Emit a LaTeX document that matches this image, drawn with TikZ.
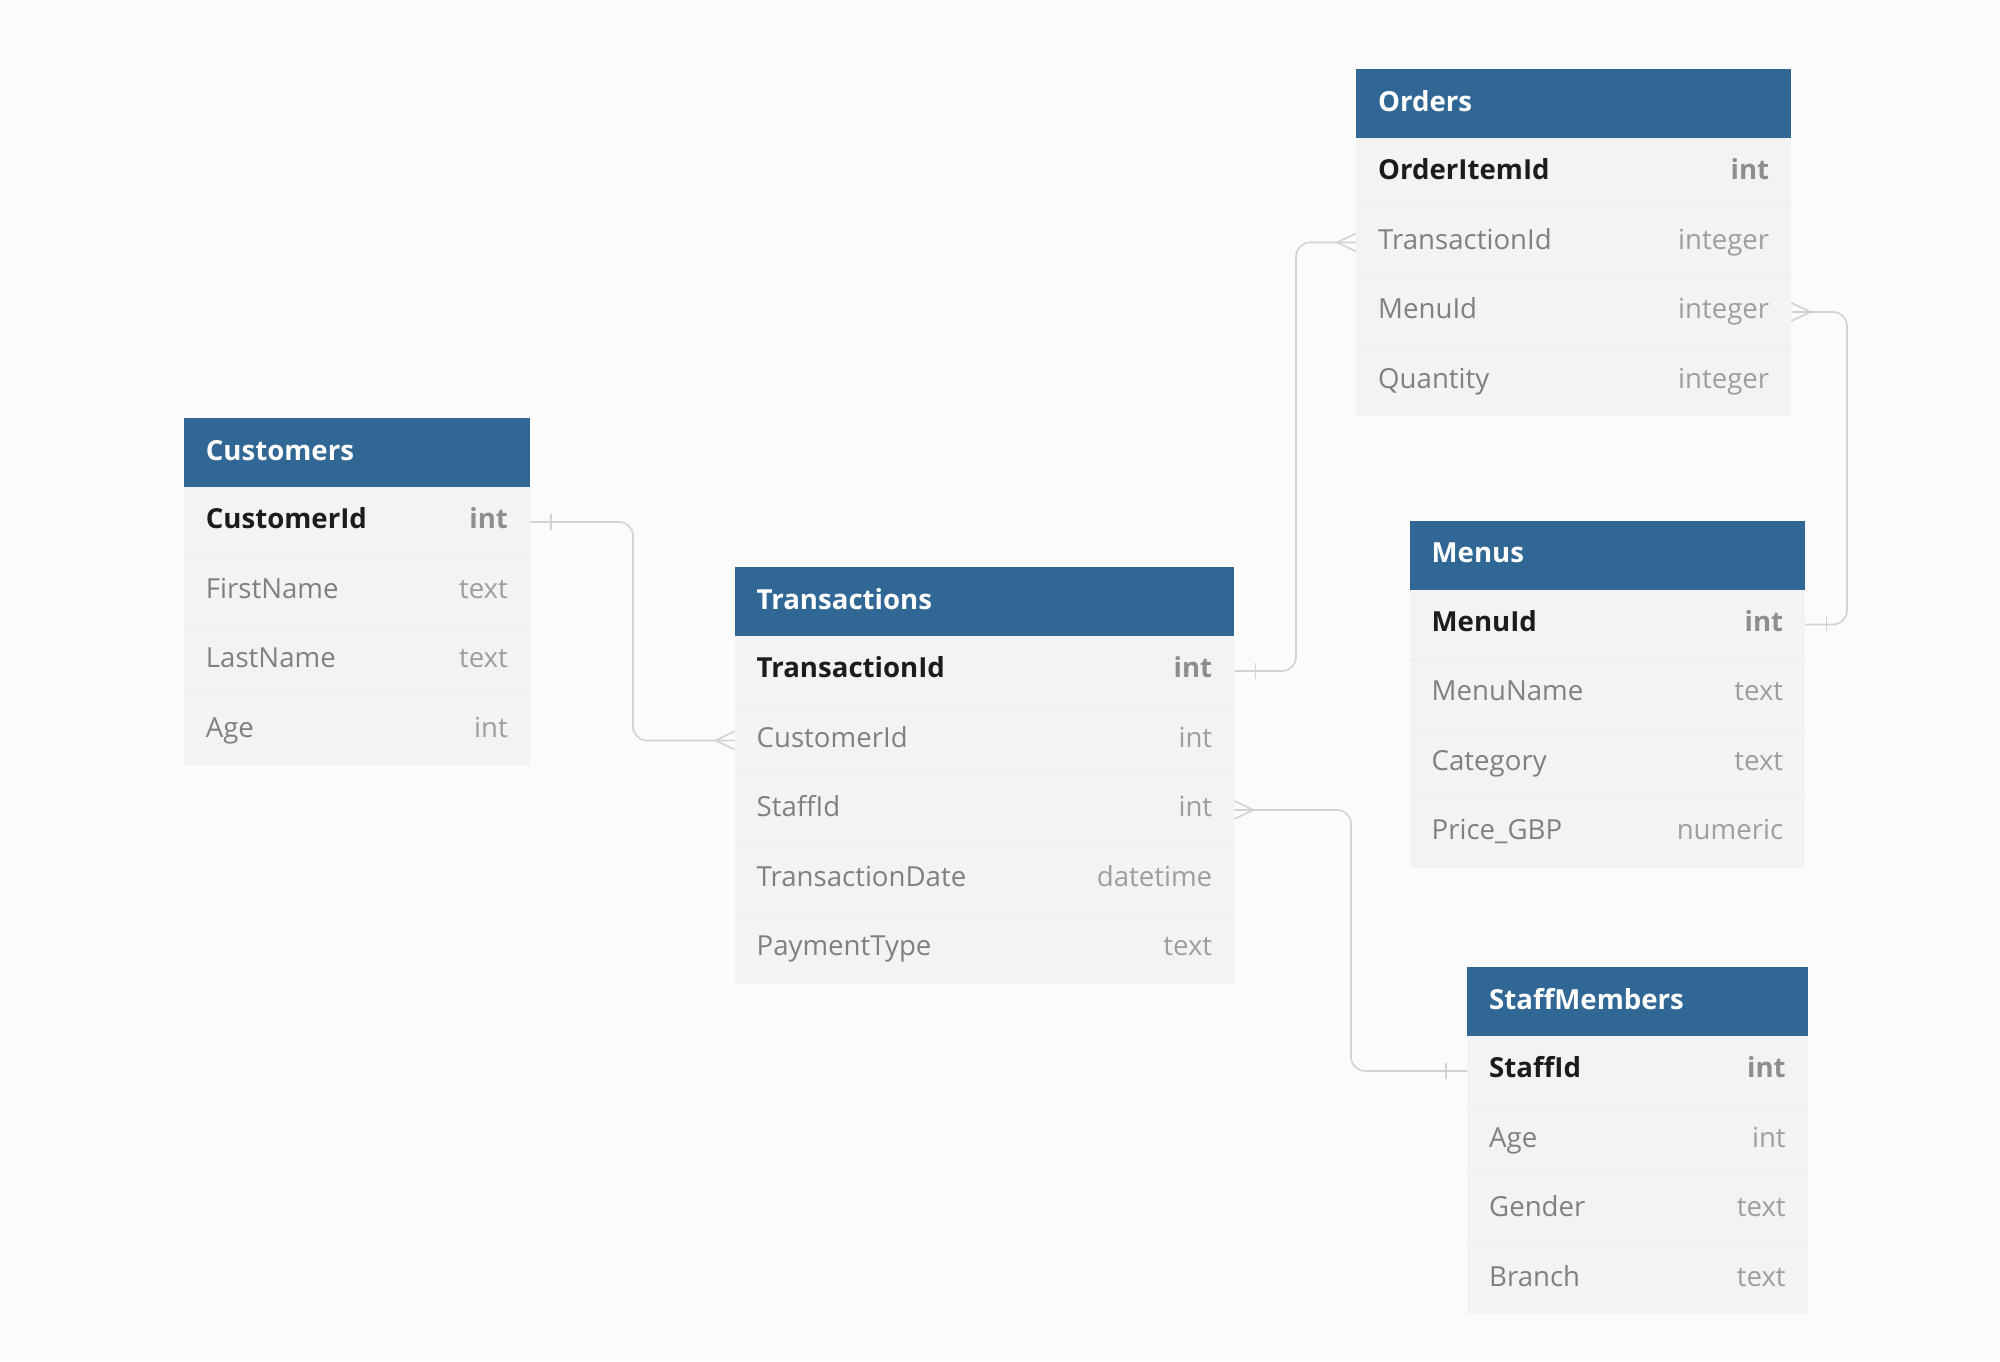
\documentclass[tikz,border=0pt]{standalone}
\usepackage{fontspec}
\setmainfont{Open Sans}
\definecolor{bgcol}{HTML}{FBFBFB}
\definecolor{hdrblue}{HTML}{316795}
\definecolor{rowcol}{HTML}{F3F3F3}
\definecolor{sepcol}{HTML}{EEEEEE}
\definecolor{linecol}{HTML}{D2D2D2}
\definecolor{pkcol}{HTML}{1C1C1C}
\definecolor{pktcol}{HTML}{8E8E8E}
\definecolor{namecol}{HTML}{808080}
\definecolor{typecol}{HTML}{9E9E9E}
\tikzset{
  hdr/.style={fill=hdrblue, draw=none, inner sep=0pt, minimum height=69pt, anchor=north west},
  rowbox/.style={fill=rowcol, draw=none, inner sep=0pt, minimum height=69.5pt, anchor=north west},
  hdrtxt/.style={text=white, inner sep=0pt, anchor=base west, font=\fontsize{27.6}{30}\selectfont\bfseries},
  pkname/.style={text=pkcol, inner sep=0pt, anchor=base west, font=\fontsize{27.6}{30}\selectfont\bfseries},
  pktype/.style={text=pktcol, inner sep=0pt, anchor=base east, font=\fontsize{27.6}{30}\selectfont\bfseries},
  fname/.style={text=namecol, inner sep=0pt, anchor=base west, font=\fontsize{27.6}{30}\selectfont},
  ftype/.style={text=typecol, inner sep=0pt, anchor=base east, font=\fontsize{27.6}{30}\selectfont},
  sep/.style={draw=sepcol, line width=1pt},
  conn/.style={draw=linecol, line width=1.6pt, rounded corners=14pt},
  ermark/.style={draw=linecol, line width=1.6pt}
}
\newcommand\ertable[6]{%
  \node[hdr, minimum width=#4pt] (#1-h) at (#2,#3) {};
  \node[hdrtxt] (#1-title) at ([xshift=22pt,yshift=-7.5pt]#1-h.west) {#5};
  \foreach \fn/\ft [count=\i] in {#6} {%
    \pgfmathsetmacro\ry{#3+69+(\i-1)*69.5}%
    \node[rowbox, minimum width=#4pt] (#1-\i) at (#2,\ry) {};
    \ifnum\i>1 \draw[sep] (#1-\i.north west) -- (#1-\i.north east); \fi
    \ifnum\i=1
      \node[pkname] (#1-\i-n) at ([xshift=22pt,yshift=-7pt]#1-\i.west) {\fn};
      \node[pktype] (#1-\i-t) at ([xshift=-22pt,yshift=-7pt]#1-\i.east) {\ft};
    \else
      \node[fname] (#1-\i-n) at ([xshift=22pt,yshift=-7pt]#1-\i.west) {\fn};
      \node[ftype] (#1-\i-t) at ([xshift=-22pt,yshift=-7pt]#1-\i.east) {\ft};
    \fi
  }%
}
\newcommand\crowfoot[2]{\draw[ermark] ([xshift=#2]#1) -- ([yshift=9pt]#1) ([xshift=#2]#1) -- ([yshift=-9pt]#1);}
\newcommand\onetick[2]{\draw[ermark] ([xshift=#2,yshift=8pt]#1) -- ([xshift=#2,yshift=-8pt]#1);}
\begin{document}
\begin{tikzpicture}[x=1pt,y=-1pt]
\fill[bgcol] (0,0) rectangle (2000,1361);
\useasboundingbox (0,0) rectangle (2000,1361);

\ertable{cu}{183.7}{418}{346}{Customers}{CustomerId/int, FirstName/text, LastName/text, Age/int}
\ertable{tr}{734.5}{567}{499.5}{Transactions}{TransactionId/int, CustomerId/int, StaffId/int, TransactionDate/datetime, PaymentType/text}
\ertable{or}{1356}{69}{435}{Orders}{OrderItemId/int, TransactionId/integer, MenuId/integer, Quantity/integer}
\ertable{me}{1409.5}{520.5}{395.5}{Menus}{MenuId/int, MenuName/text, Category/text, Price\_GBP/numeric}
\ertable{st}{1467}{967}{340.5}{StaffMembers}{StaffId/int, Age/int, Gender/text, Branch/text}

\coordinate (k1) at (633,0);
\coordinate (k2) at (1296,0);
\coordinate (k3) at (1847,0);
\coordinate (k4) at (1351,0);

\draw[conn] (cu-1.east) -- (cu-1.east -| k1) -- (k1 |- tr-2.west) -- (tr-2.west);
\onetick{cu-1.east}{21pt}
\crowfoot{tr-2.west}{-19pt}

\draw[conn] (tr-1.east) -- (tr-1.east -| k2) -- (k2 |- or-2.west) -- (or-2.west);
\onetick{tr-1.east}{21pt}
\crowfoot{or-2.west}{-19pt}

\draw[conn] (or-3.east) -- (or-3.east -| k3) -- (k3 |- me-1.east) -- (me-1.east);
\crowfoot{or-3.east}{19pt}
\onetick{me-1.east}{21pt}

\draw[conn] (tr-3.east) -- (tr-3.east -| k4) -- (k4 |- st-1.west) -- (st-1.west);
\crowfoot{tr-3.east}{19pt}
\onetick{st-1.west}{-21pt}
\end{tikzpicture}
\end{document}
